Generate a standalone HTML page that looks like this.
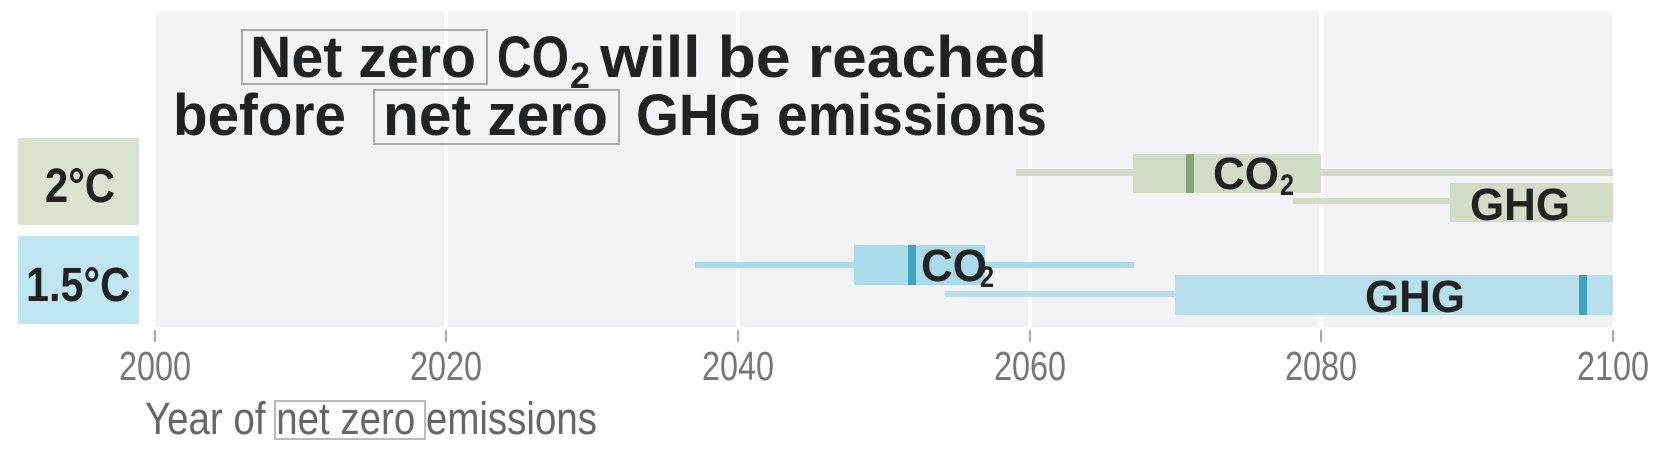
<!DOCTYPE html>
<html><head><meta charset="utf-8"><style>
html,body{margin:0;padding:0;background:#fff;}
svg{display:block;font-family:"Liberation Sans",sans-serif;}
</style></head><body>
<svg width="1666" height="449" viewBox="0 0 1666 449" xmlns="http://www.w3.org/2000/svg">
<rect x="155" y="11" width="1458" height="316" fill="#f2f3f5"/>
<g stroke="#fff" stroke-width="4">
<line x1="446" y1="11" x2="446" y2="327"/>
<line x1="738" y1="11" x2="738" y2="327"/>
<line x1="1030" y1="11" x2="1030" y2="327"/>
<line x1="1321" y1="11" x2="1321" y2="327"/>
</g>
<g stroke="#aaa" stroke-width="2">
<line x1="155" y1="330" x2="155" y2="342"/>
<line x1="446" y1="330" x2="446" y2="342"/>
<line x1="738" y1="330" x2="738" y2="342"/>
<line x1="1030" y1="330" x2="1030" y2="342"/>
<line x1="1321" y1="330" x2="1321" y2="342"/>
<line x1="1613" y1="330" x2="1613" y2="342"/>
</g>
<g fill="#777" font-size="41" text-anchor="middle">
<text x="155" y="380" textLength="72" lengthAdjust="spacingAndGlyphs">2000</text>
<text x="446" y="380" textLength="72" lengthAdjust="spacingAndGlyphs">2020</text>
<text x="738" y="380" textLength="72" lengthAdjust="spacingAndGlyphs">2040</text>
<text x="1030" y="380" textLength="72" lengthAdjust="spacingAndGlyphs">2060</text>
<text x="1321" y="380" textLength="72" lengthAdjust="spacingAndGlyphs">2080</text>
<text x="1613" y="380" textLength="72" lengthAdjust="spacingAndGlyphs">2100</text>
</g>
<text x="145" y="434" fill="#666" font-size="45" textLength="452" lengthAdjust="spacingAndGlyphs">Year of  net zero  emissions</text>
<rect x="275" y="401" width="150" height="38" fill="none" stroke="#bbb" stroke-width="2"/>
<rect x="18" y="138" width="121" height="87" fill="#dbe2cf"/>
<text x="80" y="202" text-anchor="middle" font-weight="bold" font-size="48" fill="#222" textLength="70" lengthAdjust="spacingAndGlyphs">2°C</text>
<rect x="18" y="236" width="121" height="88" fill="#c0e6f1"/>
<text x="78" y="301" text-anchor="middle" font-weight="bold" font-size="48" fill="#222" textLength="104" lengthAdjust="spacingAndGlyphs">1.5°C</text>
<rect x="1016" y="169" width="597" height="7" fill="#d3dcc7"/>
<rect x="1133" y="154" width="188" height="39" fill="#d3dcc7"/>
<rect x="1186" y="154" width="8" height="39" fill="#86a673"/>
<text x="1213" y="189" font-weight="bold" font-size="45" fill="#222" textLength="66" lengthAdjust="spacingAndGlyphs">CO</text>
<text x="1280" y="195" font-weight="bold" font-size="30" fill="#222" textLength="14" lengthAdjust="spacingAndGlyphs">2</text>
<rect x="1293" y="198" width="320" height="6" fill="#d3dcc7"/>
<rect x="1450" y="183" width="163" height="39" fill="#d3dcc7"/>
<text x="1470" y="220" font-weight="bold" font-size="45" fill="#222" textLength="100" lengthAdjust="spacingAndGlyphs">GHG</text>
<rect x="695" y="262" width="439" height="6" fill="#aadbea"/>
<rect x="854" y="245" width="131" height="40" fill="#aadbea"/>
<rect x="908" y="245" width="8" height="40" fill="#3fa5bf"/>
<text x="921" y="281" font-weight="bold" font-size="45" fill="#222" textLength="66" lengthAdjust="spacingAndGlyphs">CO</text>
<text x="980" y="287" font-weight="bold" font-size="30" fill="#222" textLength="14" lengthAdjust="spacingAndGlyphs">2</text>
<rect x="945" y="291" width="230" height="6" fill="#b7e0ec"/>
<rect x="1175" y="275" width="438" height="40" fill="#b7e0ec"/>
<rect x="1579" y="275" width="8" height="40" fill="#3fa5bf"/>
<text x="1365" y="312" font-weight="bold" font-size="45" fill="#222" textLength="100" lengthAdjust="spacingAndGlyphs">GHG</text>
<g font-weight="bold" font-size="58" fill="#222">
<text x="250" y="77" textLength="226" lengthAdjust="spacingAndGlyphs">Net zero</text>
<text x="497" y="77" textLength="72" lengthAdjust="spacingAndGlyphs">CO</text>
<text x="570" y="88" font-size="36" textLength="20" lengthAdjust="spacingAndGlyphs">2</text>
<text x="600" y="77" textLength="447" lengthAdjust="spacingAndGlyphs">will be reached</text>
<text x="173" y="135" textLength="173" lengthAdjust="spacingAndGlyphs">before</text>
<text x="383" y="135" textLength="225" lengthAdjust="spacingAndGlyphs">net zero</text>
<text x="636" y="135" textLength="411" lengthAdjust="spacingAndGlyphs">GHG emissions</text>
</g>
<rect x="242" y="30" width="245" height="54" fill="none" stroke="#aaa" stroke-width="2"/>
<rect x="374" y="90" width="245" height="54" fill="none" stroke="#aaa" stroke-width="2"/>
</svg>
</body></html>
